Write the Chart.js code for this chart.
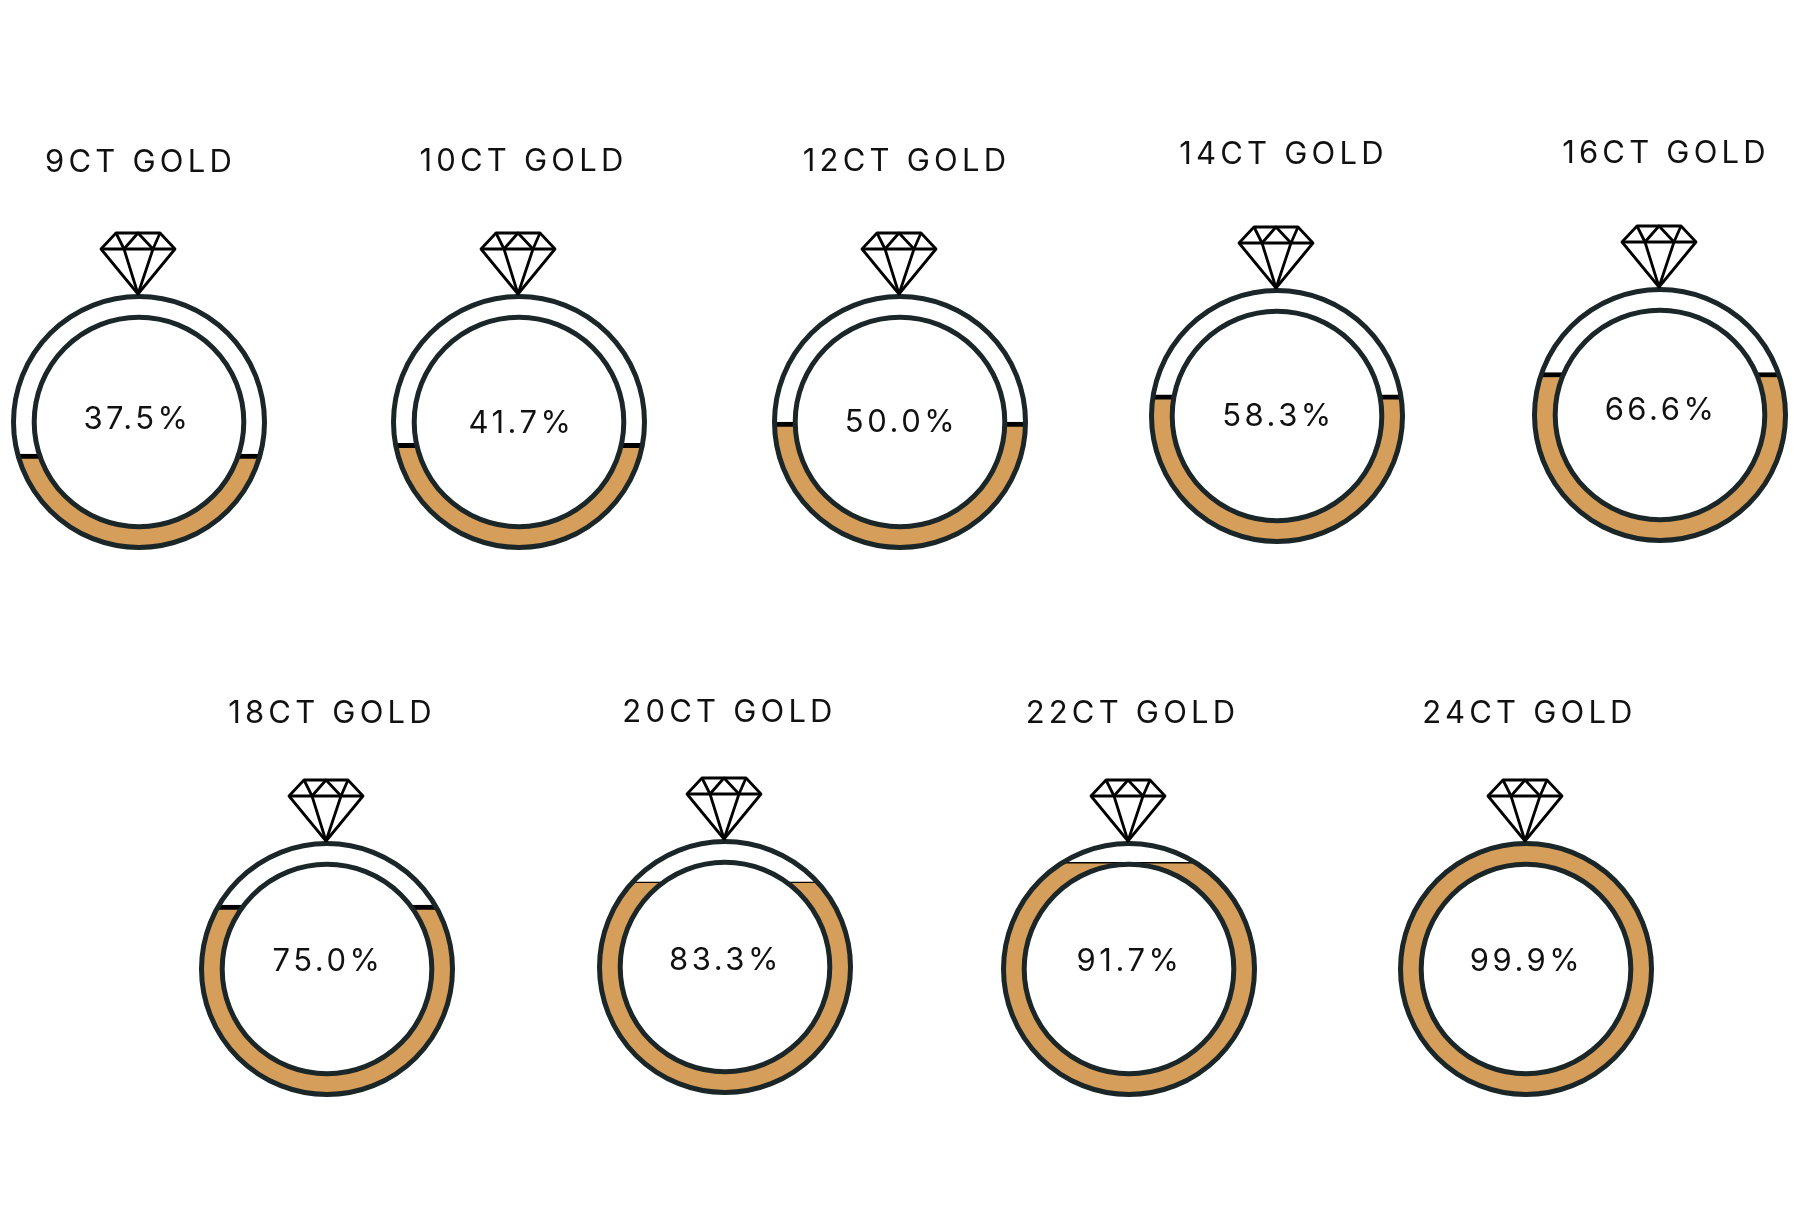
<!DOCTYPE html>
<html>
<head>
<meta charset="utf-8">
<title>Gold purity by carat</title>
<script src="https://cdn.jsdelivr.net/npm/chart.js"></script>
<style>
  html, body { margin: 0; background: #fff; }
  body { position: relative; width: 1806px; height: 1222px; overflow: hidden; }
  canvas { position: absolute; }
</style>
</head>
<body>
<script>
  // chart data
  const categories = ['9CT GOLD', '10CT GOLD', '12CT GOLD', '14CT GOLD', '16CT GOLD', '18CT GOLD', '20CT GOLD', '22CT GOLD', '24CT GOLD'];
  const purity = [37.5, 41.7, 50.0, 58.3, 66.6, 75.0, 83.3, 91.7, 99.9];

  // page layout, one entry per ring
  const ringCentres = [[138.5, 421.5], [518.5, 421.5], [899.5, 421.5], [1276.5, 416], [1660, 415], [327, 969], [724.5, 966.5], [1128.5, 969], [1525.5, 969]];
  const titleCentres = [[140, 162], [523, 161], [906, 161], [1283, 155], [1666, 154], [332, 714], [729, 712], [1132, 714], [1529, 714]];
  const valueCentres = [[137, 419], [521, 423], [901, 422], [1278, 417], [1661, 411], [328, 962], [725, 960], [1129, 962], [1526, 962]];

  const W = 340, H = 460;
  const OUTER = 128, RING_OUT = 125.5, RING_IN = 104.8, STROKE = 5;
  const BOTTOM_PAD = 20;
  const FONT = '400 31px Inter';

  const ringPlugin = {
    id: 'ring',
    // clip the bar to the band of the ring
    beforeDatasetsDraw(chart) {
      const { ctx, chartArea: a } = chart;
      const cx = (a.left + a.right) / 2, cy = (a.top + a.bottom) / 2;
      ctx.save();
      ctx.beginPath();
      ctx.arc(cx, cy, RING_OUT, 0, Math.PI * 2);
      ctx.arc(cx, cy, RING_IN, 0, Math.PI * 2);
      ctx.clip('evenodd');
    },
    afterDatasetsDraw(chart, args, opts) {
      const { ctx, chartArea: a } = chart;
      ctx.restore();
      const cx = (a.left + a.right) / 2, cy = (a.top + a.bottom) / 2;

      ctx.save();
      ctx.strokeStyle = '#1a2627';
      ctx.lineWidth = STROKE;
      [RING_OUT, RING_IN].forEach(r => {
        ctx.beginPath();
        ctx.arc(cx, cy, r, 0, Math.PI * 2);
        ctx.stroke();
      });

      // diamond sitting on top of the ring
      const x = cx - 1, y = a.top;
      const p = (dx, dy) => [x + dx, y + dy];
      const facets = [
        [p(0, 0), p(-37, -45), p(-22, -61), p(22, -61), p(37, -45), p(0, 0)],
        [p(-37, -45), p(37, -45)],
        [p(-22, -61), p(-14, -45), p(0, 0), p(15, -45), p(22, -61)],
        [p(-14, -45), p(0, -61), p(15, -45)]
      ];
      ctx.strokeStyle = '#000';
      ctx.lineWidth = 2.8;
      ctx.lineJoin = 'round';
      facets.forEach(line => {
        ctx.beginPath();
        line.forEach((pt, i) => i ? ctx.lineTo(pt[0], pt[1]) : ctx.moveTo(pt[0], pt[1]));
        ctx.stroke();
      });

      // title and value text
      ctx.fillStyle = '#111';
      ctx.font = FONT;
      ctx.textAlign = 'center';
      ctx.textBaseline = 'middle';
      ctx.letterSpacing = '4.2px';
      ctx.fillText(chart.data.labels[0], opts.title[0], opts.title[1]);
      ctx.letterSpacing = '3.5px';
      ctx.fillText(chart.data.datasets[0].data[0].toFixed(1) + '%', opts.value[0], opts.value[1]);
      ctx.restore();
    }
  };

  categories.forEach((name, i) => {
    const [cx, cy] = ringCentres[i];
    const left = cx - W / 2;
    const top = cy + OUTER + BOTTOM_PAD - H;
    const canvas = document.createElement('canvas');
    canvas.width = W;
    canvas.height = H;
    canvas.style.left = left + 'px';
    canvas.style.top = top + 'px';
    document.body.appendChild(canvas);

    new Chart(canvas, {
      type: 'bar',
      data: {
        labels: [name],
        datasets: [{
          data: [purity[i]],
          backgroundColor: '#d59e5b',
          borderColor: '#000',
          // the cut line gets thin on the two nearly full rings
          borderWidth: { top: purity[i] > 80 && purity[i] < 99 ? 1.5 : 5, left: 0, right: 0, bottom: 0 },
          borderSkipped: false,
          barPercentage: 1,
          categoryPercentage: 1
        }]
      },
      options: {
        responsive: false,
        animation: false,
        layout: {
          padding: { left: W / 2 - OUTER, right: W / 2 - OUTER, top: H - 2 * OUTER - BOTTOM_PAD, bottom: BOTTOM_PAD }
        },
        scales: {
          x: { display: false },
          y: { display: false, min: 0, max: 100 }
        },
        plugins: {
          legend: { display: false },
          tooltip: { enabled: false },
          ring: {
            title: [titleCentres[i][0] - left, titleCentres[i][1] - top],
            value: [valueCentres[i][0] - left, valueCentres[i][1] - top]
          }
        }
      },
      plugins: [ringPlugin]
    });
  });
</script>
</body>
</html>
